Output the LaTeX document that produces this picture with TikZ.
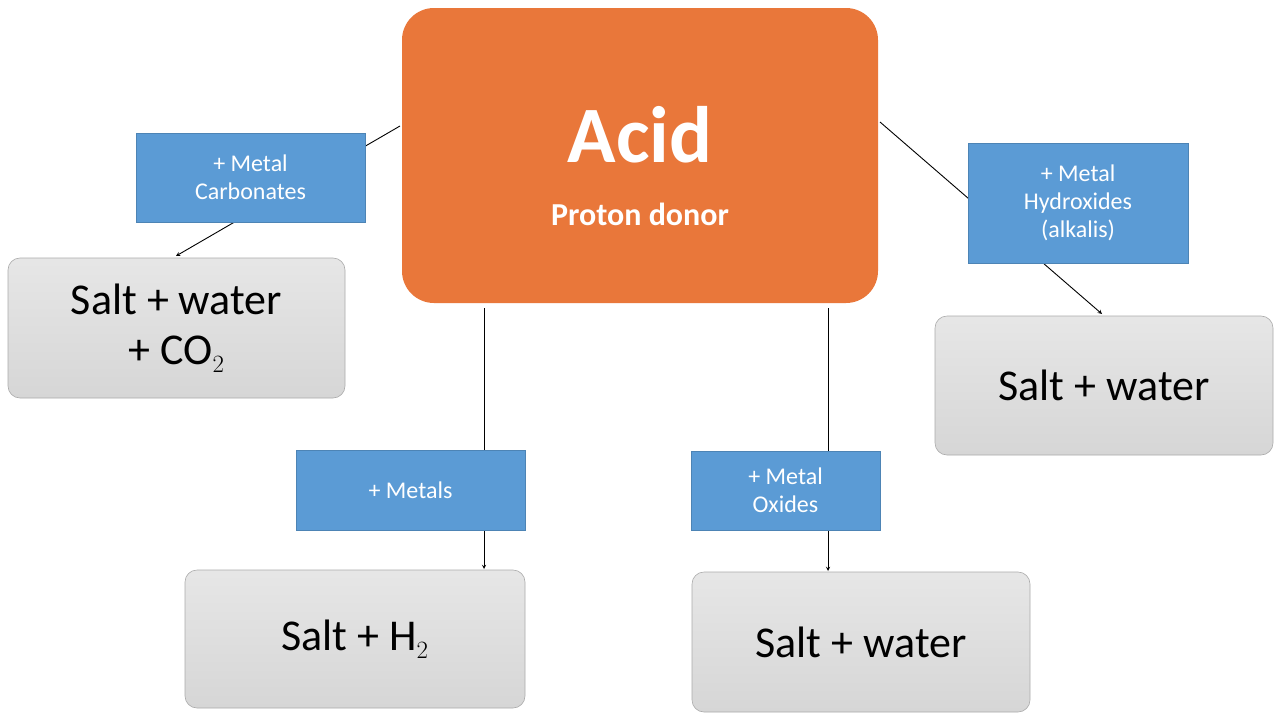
\documentclass[tikz,border=0pt]{standalone}
\usepackage{fontspec}
\setmainfont{Carlito}
\definecolor{acidc}{HTML}{E9773A}
\definecolor{labc}{HTML}{5B9BD5}
\definecolor{grayc}{HTML}{D6D6D6}
\begin{document}
\begin{tikzpicture}[x=1pt,y=-1pt,
  box/.style={draw=grayc!80!black, line width=0.6pt, rounded corners=12pt, top color=grayc!60, bottom color=grayc, font=\fontsize{44}{50}\selectfont, align=center, inner sep=0},
  lab/.style={fill=labc, draw=labc!85!black, text=white, font=\fontsize{24}{28}\selectfont, align=center, inner sep=0},
  arr/.style={-stealth, line width=0.9pt}]
\useasboundingbox (0,0) rectangle (1280,720);
\fill[white] (0,0) rectangle (1280,720);
\node[fill=acidc, rounded corners=32pt, minimum width=476pt, minimum height=295pt, inner sep=0] (acid) at (640,155.5) {};
\node[text=white, font=\fontsize{80}{80}\selectfont\bfseries] (at) at (640,135) {Acid};
\node[text=white, font=\fontsize{32}{36}\selectfont\bfseries] (pd) at (640,214) {Proton donor};
\coordinate (a1) at (400,126);
\coordinate (a2) at (880,122);
\coordinate (a3) at (484,308);
\coordinate (a4) at (828,308);
\node[box, minimum width=337pt, minimum height=140pt] (s1) at (176.5,328) {Salt + water\\+ CO$_2$};
\node[box, minimum width=338pt, minimum height=139pt] (s2) at (1104,385.5) {Salt + water};
\node[box, minimum width=340pt, minimum height=138pt] (s3) at (355,639) {Salt + H$_2$};
\node[box, minimum width=338pt, minimum height=140pt] (s4) at (861,642) {Salt + water};
\draw[arr] (a1) -- (176,256);
\draw[arr] (a2) -- (1102,314);
\draw[arr] (a3) -- (484,569);
\draw[arr] (a4) -- (828,571);
\node[lab, minimum width=229pt, minimum height=89pt] (l1) at (250.5,177.5) {+ Metal\\Carbonates};
\node[lab, minimum width=220pt, minimum height=120pt] (l2) at (1078,203) {+ Metal\\Hydroxides\\(alkalis)};
\node[lab, minimum width=229pt, minimum height=80pt] (l3) at (410.5,490) {+ Metals};
\node[lab, minimum width=189pt, minimum height=79pt] (l4) at (785.5,490.5) {+ Metal\\Oxides};
\end{tikzpicture}
\end{document}
